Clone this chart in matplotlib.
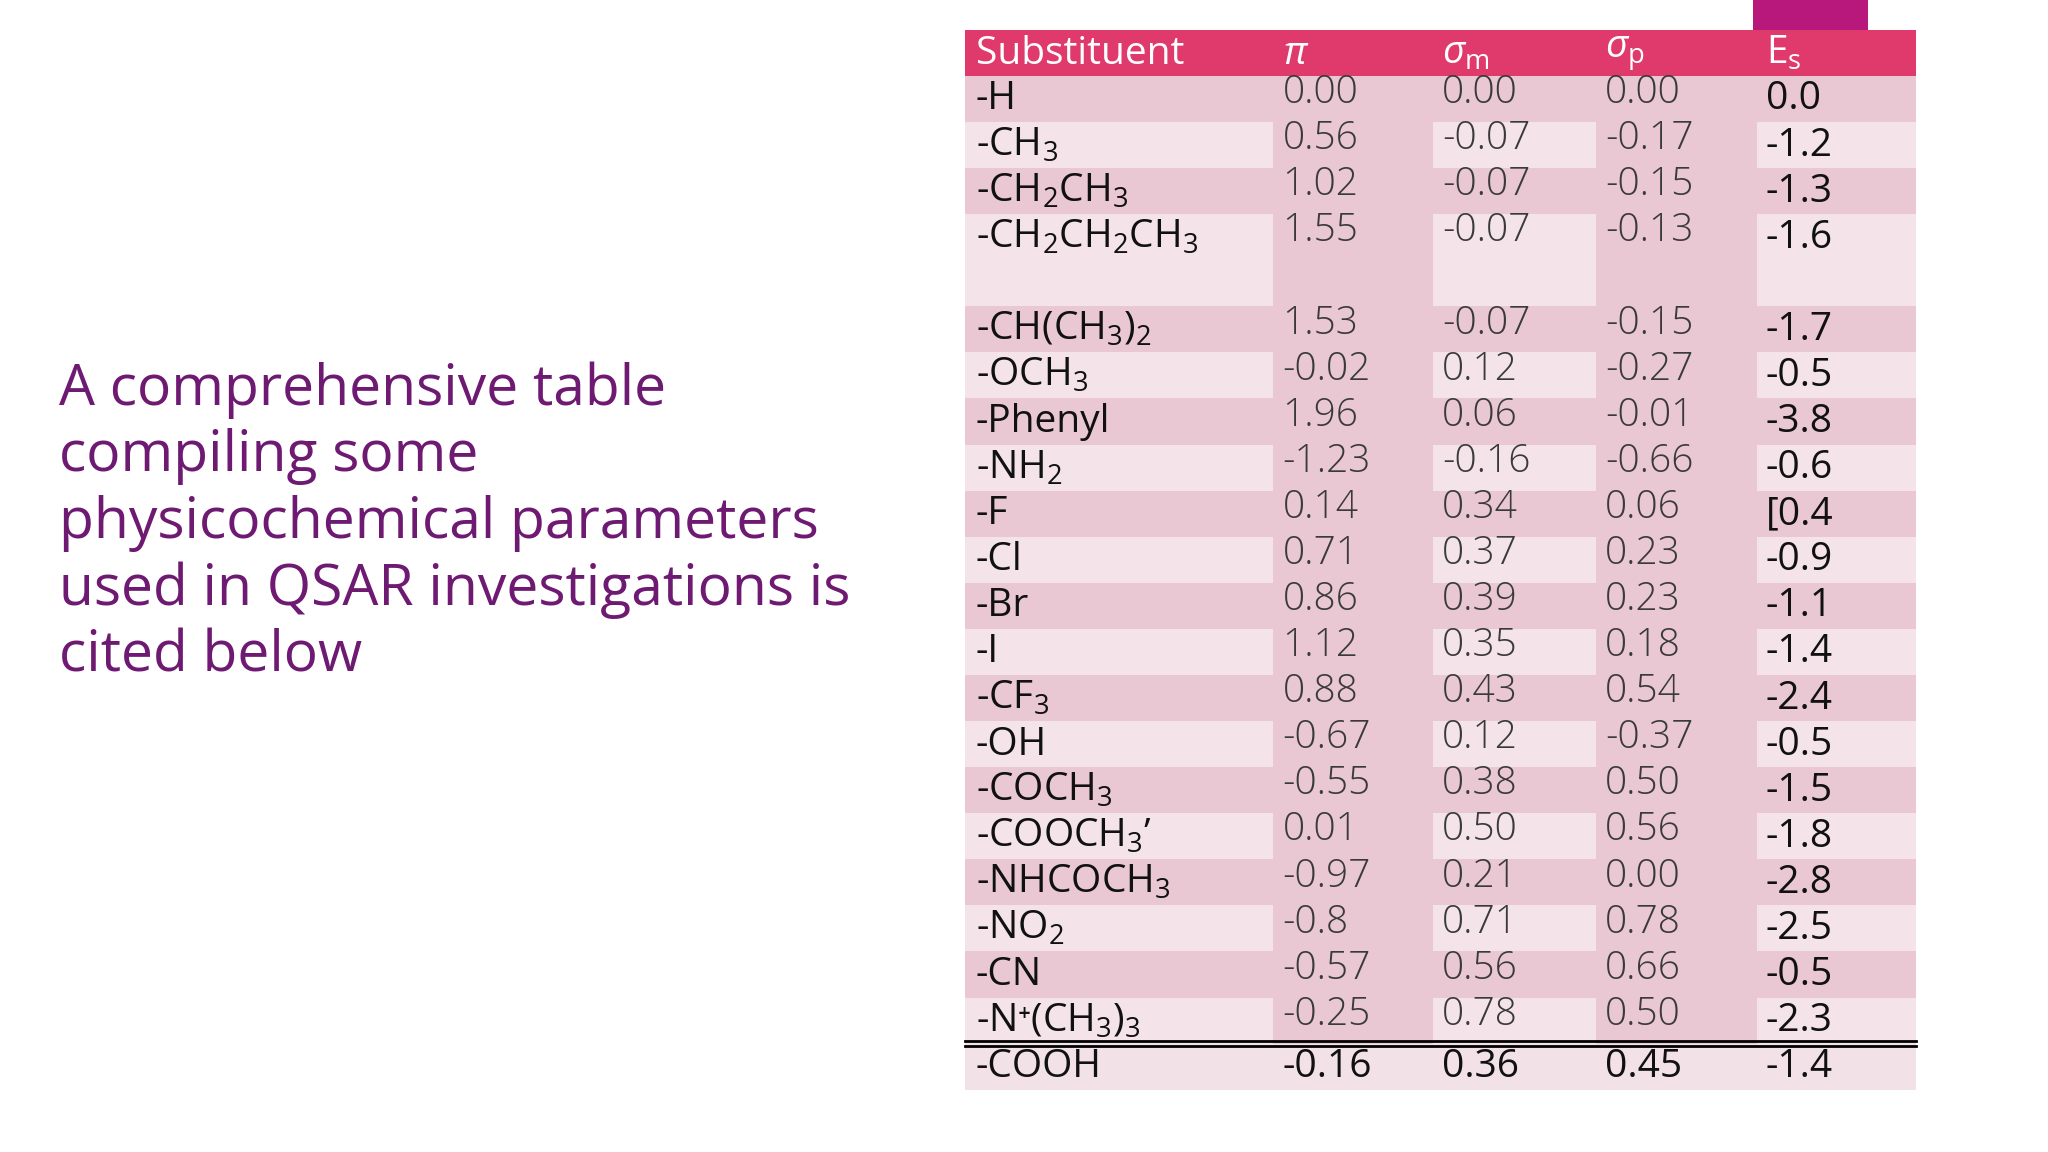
import matplotlib
matplotlib.use("Agg")
import matplotlib.pyplot as plt
from matplotlib.patches import Rectangle

plt.rcParams['mathtext.fontset'] = 'custom'
plt.rcParams['mathtext.rm'] = 'Open Sans'
plt.rcParams['mathtext.it'] = 'Open Sans:italic'
plt.rcParams['mathtext.bf'] = 'Open Sans:bold'

headers = ["Substituent", r"$\pi$", r"$\sigma_\mathrm{m}$", r"$\sigma_\mathrm{p}$", r"E$_\mathrm{s}$"]
substituents = ["-H", "-CH$_3$", "-CH$_2$CH$_3$", "-CH$_2$CH$_2$CH$_3$", "-CH(CH$_3$)$_2$", "-OCH$_3$",
                "-Phenyl", "-NH$_2$", "-F", "-Cl", "-Br", "-I", "-CF$_3$", "-OH", "-COCH$_3$",
                "-COOCH$_3$\u2019", "-NHCOCH$_3$", "-NO$_2$", "-CN", "-N\u207a(CH$_3$)$_3$", "-COOH"]
pi = ["0.00", "0.56", "1.02", "1.55", "1.53", "-0.02", "1.96", "-1.23", "0.14", "0.71", "0.86", "1.12",
      "0.88", "-0.67", "-0.55", "0.01", "-0.97", "-0.8", "-0.57", "-0.25", "-0.16"]
sigma_m = ["0.00", "-0.07", "-0.07", "-0.07", "-0.07", "0.12", "0.06", "-0.16", "0.34", "0.37", "0.39",
           "0.35", "0.43", "0.12", "0.38", "0.50", "0.21", "0.71", "0.56", "0.78", "0.36"]
sigma_p = ["0.00", "-0.17", "-0.15", "-0.13", "-0.15", "-0.27", "-0.01", "-0.66", "0.06", "0.23", "0.23",
           "0.18", "0.54", "-0.37", "0.50", "0.56", "0.00", "0.78", "0.66", "0.50", "0.45"]
e_s = ["0.0", "-1.2", "-1.3", "-1.6", "-1.7", "-0.5", "-3.8", "-0.6", "[0.4", "-0.9", "-1.1", "-1.4",
       "-2.4", "-0.5", "-1.5", "-1.8", "-2.8", "-2.5", "-0.5", "-2.3", "-1.4"]

W, H = 1568, 880
fig = plt.figure(figsize=(20.48, 11.52), dpi=100)
ax = fig.add_axes([0, 0, 1, 1])
ax.set_xlim(0, W); ax.set_ylim(H, 0); ax.axis('off')

fs = 28
purple = "#6e1a72"
ax.text(45, 276, "A comprehensive table\ncompiling some\nphysicochemical parameters\nused in QSAR investigations is\ncited below",
        fontsize=41, color=purple, family="Open Sans", va="top", ha="left", linespacing=1.22)

# magenta tab
ax.add_patch(Rectangle((1342, 0), 88, 23, color="#b8177c", lw=0))

col_edges = [739, 975, 1097, 1222, 1345, 1467]
col_text = [747, 982, 1104, 1229, 1352]
dark, light = "#e9c8d3", "#f4e4ea"

# header
ax.add_patch(Rectangle((739, 23), 728, 35, color="#e0396c", lw=0))
for x, h in zip(col_text, headers):
    ax.text(x, 41, h, fontsize=fs, color="white", family="Open Sans", va="center", ha="left")

y = 58.0
rh = 35.2
cols = [substituents, pi, sigma_m, sigma_p, e_s]
n = len(substituents)
for i in range(n):
    h = 2 * rh if i == 3 else rh
    last = (i == n - 1)
    for c in range(5):
        if last:
            colr = "#f2e1e7"
        elif i % 2 == 0:
            colr = dark
        else:
            colr = light if c % 2 == 0 else dark
        ax.add_patch(Rectangle((col_edges[c], y), col_edges[c + 1] - col_edges[c], h, color=colr, lw=0))
    for c in range(5):
        txt = cols[c][i]
        if c == 0 or c == 4:
            ax.text(col_text[c], y + 18, txt, fontsize=fs, color="#111111", family="Open Sans", va="center")
        else:
            ax.text(col_text[c], y + (18 if last else 13), txt, fontsize=fs,
                    color="#111111" if last else "#3a3a3a",
                    family="Open Sans", fontweight="normal" if last else "light", va="center")
    y += h
    if i == n - 2:
        ax.plot([739, 1467], [y - 2, y - 2], color="black", lw=2)
        ax.plot([739, 1467], [y + 2, y + 2], color="black", lw=2)

fig.savefig("out.png", dpi=100, facecolor="white")
